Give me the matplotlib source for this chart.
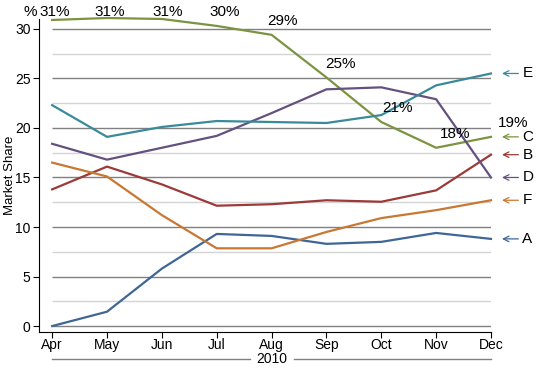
import matplotlib
matplotlib.use("Agg")
import matplotlib.pyplot as plt
import numpy as np

plt.rcParams["font.family"] = ["Liberation Sans", "DejaVu Sans"]

months = ["Apr", "May", "Jun", "Jul", "Aug", "Sep", "Oct", "Nov", "Dec"]
year_label = "2010"

share_a = [0.0, 1.45, 5.8, 9.3, 9.1, 8.3, 8.5, 9.4, 8.8]
share_b = [13.8, 16.1, 14.3, 12.15, 12.3, 12.7, 12.55, 13.7, 17.3]
share_c = [30.9, 31.1, 31.0, 30.3, 29.4, 25.1, 20.6, 18.0, 19.1]
share_d = [18.4, 16.8, 18.0, 19.2, 21.5, 23.9, 24.1, 22.9, 15.0]
share_e = [22.3, 19.1, 20.1, 20.7, 20.6, 20.5, 21.3, 24.3, 25.5]
share_f = [16.5, 15.1, 11.2, 7.85, 7.85, 9.5, 10.9, 11.7, 12.7]
c_labels = ["31%", "31%", "31%", "30%", "29%", "25%", "21%", "18%", "19%"]

series = [("A", share_a, "#3F6696"), ("B", share_b, "#9B3A38"),
          ("C", share_c, "#7A9440"), ("D", share_d, "#64517F"),
          ("E", share_e, "#3A8A9B"), ("F", share_f, "#C87832")]

fig = plt.figure(figsize=(5.47, 3.68), dpi=100)
ax = fig.add_axes([0.0713, 0.0978, 0.8263, 0.8506])
x = np.arange(len(months))

# gridlines only span the data range
for v in np.arange(2.5, 30, 5):
    ax.hlines(v, 0, 8, color="#D4D4D4", lw=1, zorder=0)
for v in np.arange(0, 31, 5):
    ax.hlines(v, 0, 8, color="#808080", lw=1, zorder=0)

for name, vals, col in series:
    ax.plot(x, vals, color=col, lw=1.6, zorder=3, clip_on=False)
    ax.annotate("", xy=(8.15, vals[-1]), xytext=(8.55, vals[-1]),
                arrowprops=dict(arrowstyle="->", color=col, lw=0.9),
                annotation_clip=False)
    ax.text(8.57, vals[-1], name, fontsize=11, va="center", ha="left")

for i, (v, lab) in enumerate(zip(share_c, c_labels)):
    ax.text(i * 1.05 + (0.04 if i == 0 else 0), min(v + 1.4, 31.7), lab,
            fontsize=11, ha="center", va="center", zorder=4)
ax.text(-0.4, 31.7, "%", fontsize=11, ha="center", va="center")

ax.set_xlim(-0.24, 8)
ax.set_ylim(-0.6, 31)
ax.set_xticks(x)
ax.set_xticklabels(months, fontsize=10)
ax.set_yticks(np.arange(0, 31, 5))
ax.tick_params(axis="y", labelsize=10, length=4, direction="out", pad=2)
ax.tick_params(axis="x", length=4, direction="out", pad=0)
ax.spines["top"].set_visible(False)
ax.spines["right"].set_visible(False)
fig.text(10 / 547, 1 - 175 / 368, "Market Share", fontsize=9.5,
         rotation=90, ha="center", va="center")

# second-level category label with lines
ax.text(4, -3.35, year_label, fontsize=10, ha="center", va="center",
        clip_on=False)
ax.plot([0, 3.6], [-3.35, -3.35], color="#808080", lw=1, clip_on=False)
ax.plot([4.4, 8], [-3.35, -3.35], color="#808080", lw=1, clip_on=False)

fig.savefig("out.png", dpi=100)
